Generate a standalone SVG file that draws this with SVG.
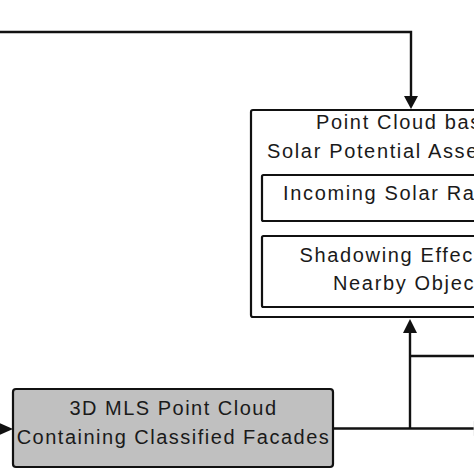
<svg xmlns="http://www.w3.org/2000/svg" width="474" height="474" viewBox="0 0 474 474">
<style>
  .box { fill: #ffffff; stroke: #111111; stroke-width: 2.2; }
  .gray { fill: #c0c0c0; stroke: #111111; stroke-width: 2.2; }
  .line { fill: none; stroke: #111111; stroke-width: 2.4; }
  .head { fill: #111111; stroke: none; }
  text { font-family: "Liberation Sans", Arial, sans-serif; font-size: 20px; letter-spacing: 1.5px; fill: #1a1a1a; }
  .wide { letter-spacing: 1.65px; }
</style>
<rect width="474" height="474" fill="#ffffff"/>
<g id="connectors">
  <path class="line" d="M0,32 H411 V98"/>
  <polygon class="head" points="404,96 418,96 411,109"/>
  <path class="line" d="M333,428.5 H474"/>
  <path class="line" d="M410,428.5 V332"/>
  <polygon class="head" points="403,333 417,333 410,319"/>
  <path class="line" d="M410,356 H474"/>
  <path class="line" d="M0,429 H4"/>
  <polygon class="head" points="-2,422.5 -2,435.5 13,429"/>
  <polygon points="473.6,421 486,428.5 473.6,436" fill="#dddddd"/>
</g>
<g id="solar-assessment">
  <rect class="box" x="251" y="110" width="330" height="207" rx="2"/>
  <text class="wide" x="316" y="129">Point Cloud based</text>
  <text class="wide" x="267" y="158">Solar Potential Assessment</text>
</g>
<g id="incoming-radiation">
  <rect class="box" x="262" y="175" width="300" height="46" rx="1.5"/>
  <text class="wide" x="283" y="200">Incoming Solar Radiation</text>
</g>
<g id="shadowing">
  <rect class="box" x="262" y="236" width="300" height="71" rx="1.5"/>
  <text class="wide" x="299.5" y="262">Shadowing Effects of</text>
  <text class="wide" x="333" y="290">Nearby Objects</text>
</g>
<g id="point-cloud">
  <rect class="gray" x="13" y="389" width="320" height="78" rx="3"/>
  <text x="173.5" y="415" text-anchor="middle">3D MLS Point Cloud</text>
  <text x="173.5" y="444" text-anchor="middle">Containing Classified Facades</text>
</g>
</svg>
